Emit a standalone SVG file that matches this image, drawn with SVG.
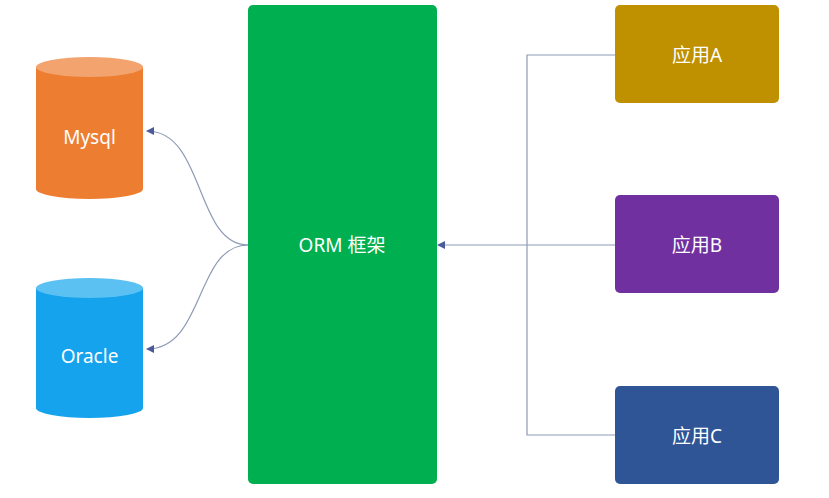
<svg xmlns="http://www.w3.org/2000/svg" width="829" height="498" viewBox="0 0 829 498">
<style>
.t{font-family:"Noto Sans","Noto Sans CJK SC",sans-serif;font-size:19px;fill:#fff;text-anchor:middle;dominant-baseline:central}
.c{fill:none;stroke:#8e9bb5;stroke-width:1.2}
</style>
<defs><marker id="ah" markerWidth="8" markerHeight="8" refX="7" refY="4" orient="auto" markerUnits="userSpaceOnUse"><path d="M0,0 L8,4 L0,8 z" fill="#4a5a9a"/></marker></defs>
<rect width="829" height="498" fill="#fff"/>
<g id="connectors">
<path class="c" d="M248,245 C195,245 205,131 147,131" marker-end="url(#ah)"/>
<path class="c" d="M248,245 C195,245 205,349 147,349" marker-end="url(#ah)"/>
<path class="c" d="M615,55 H527 V435 H615 M527,245 H615"/>
<path class="c" d="M527,245 H438" marker-end="url(#ah)"/>
</g>
<g id="mysql">
<path d="M36,67 V189 A53.5,10 0 0 0 143,189 V67 Z" fill="#ED7D31"/>
<ellipse cx="89.5" cy="67" rx="53.5" ry="10" fill="#F2A36E"/>
<text class="t" x="89.5" y="137">Mysql</text>
</g>
<g id="oracle">
<path d="M36,288 V408 A53.5,10 0 0 0 143,408 V288 Z" fill="#14A3EC"/>
<ellipse cx="89.5" cy="288" rx="53.5" ry="10" fill="#5BC0F2"/>
<text class="t" x="89.5" y="356">Oracle</text>
</g>
<g id="orm">
<rect x="248" y="5" width="189" height="479" rx="5" fill="#00B050"/>
<text class="t" x="342" y="245">ORM 框架</text>
</g>
<g id="appA"><rect x="615" y="5" width="164" height="98" rx="5" fill="#BF9000"/><text class="t" x="697" y="55">应用A</text></g>
<g id="appB"><rect x="615" y="195" width="164" height="98" rx="5" fill="#7030A0"/><text class="t" x="697" y="245">应用B</text></g>
<g id="appC"><rect x="615" y="386" width="164" height="98" rx="5" fill="#2F5597"/><text class="t" x="697" y="436">应用C</text></g>
</svg>
